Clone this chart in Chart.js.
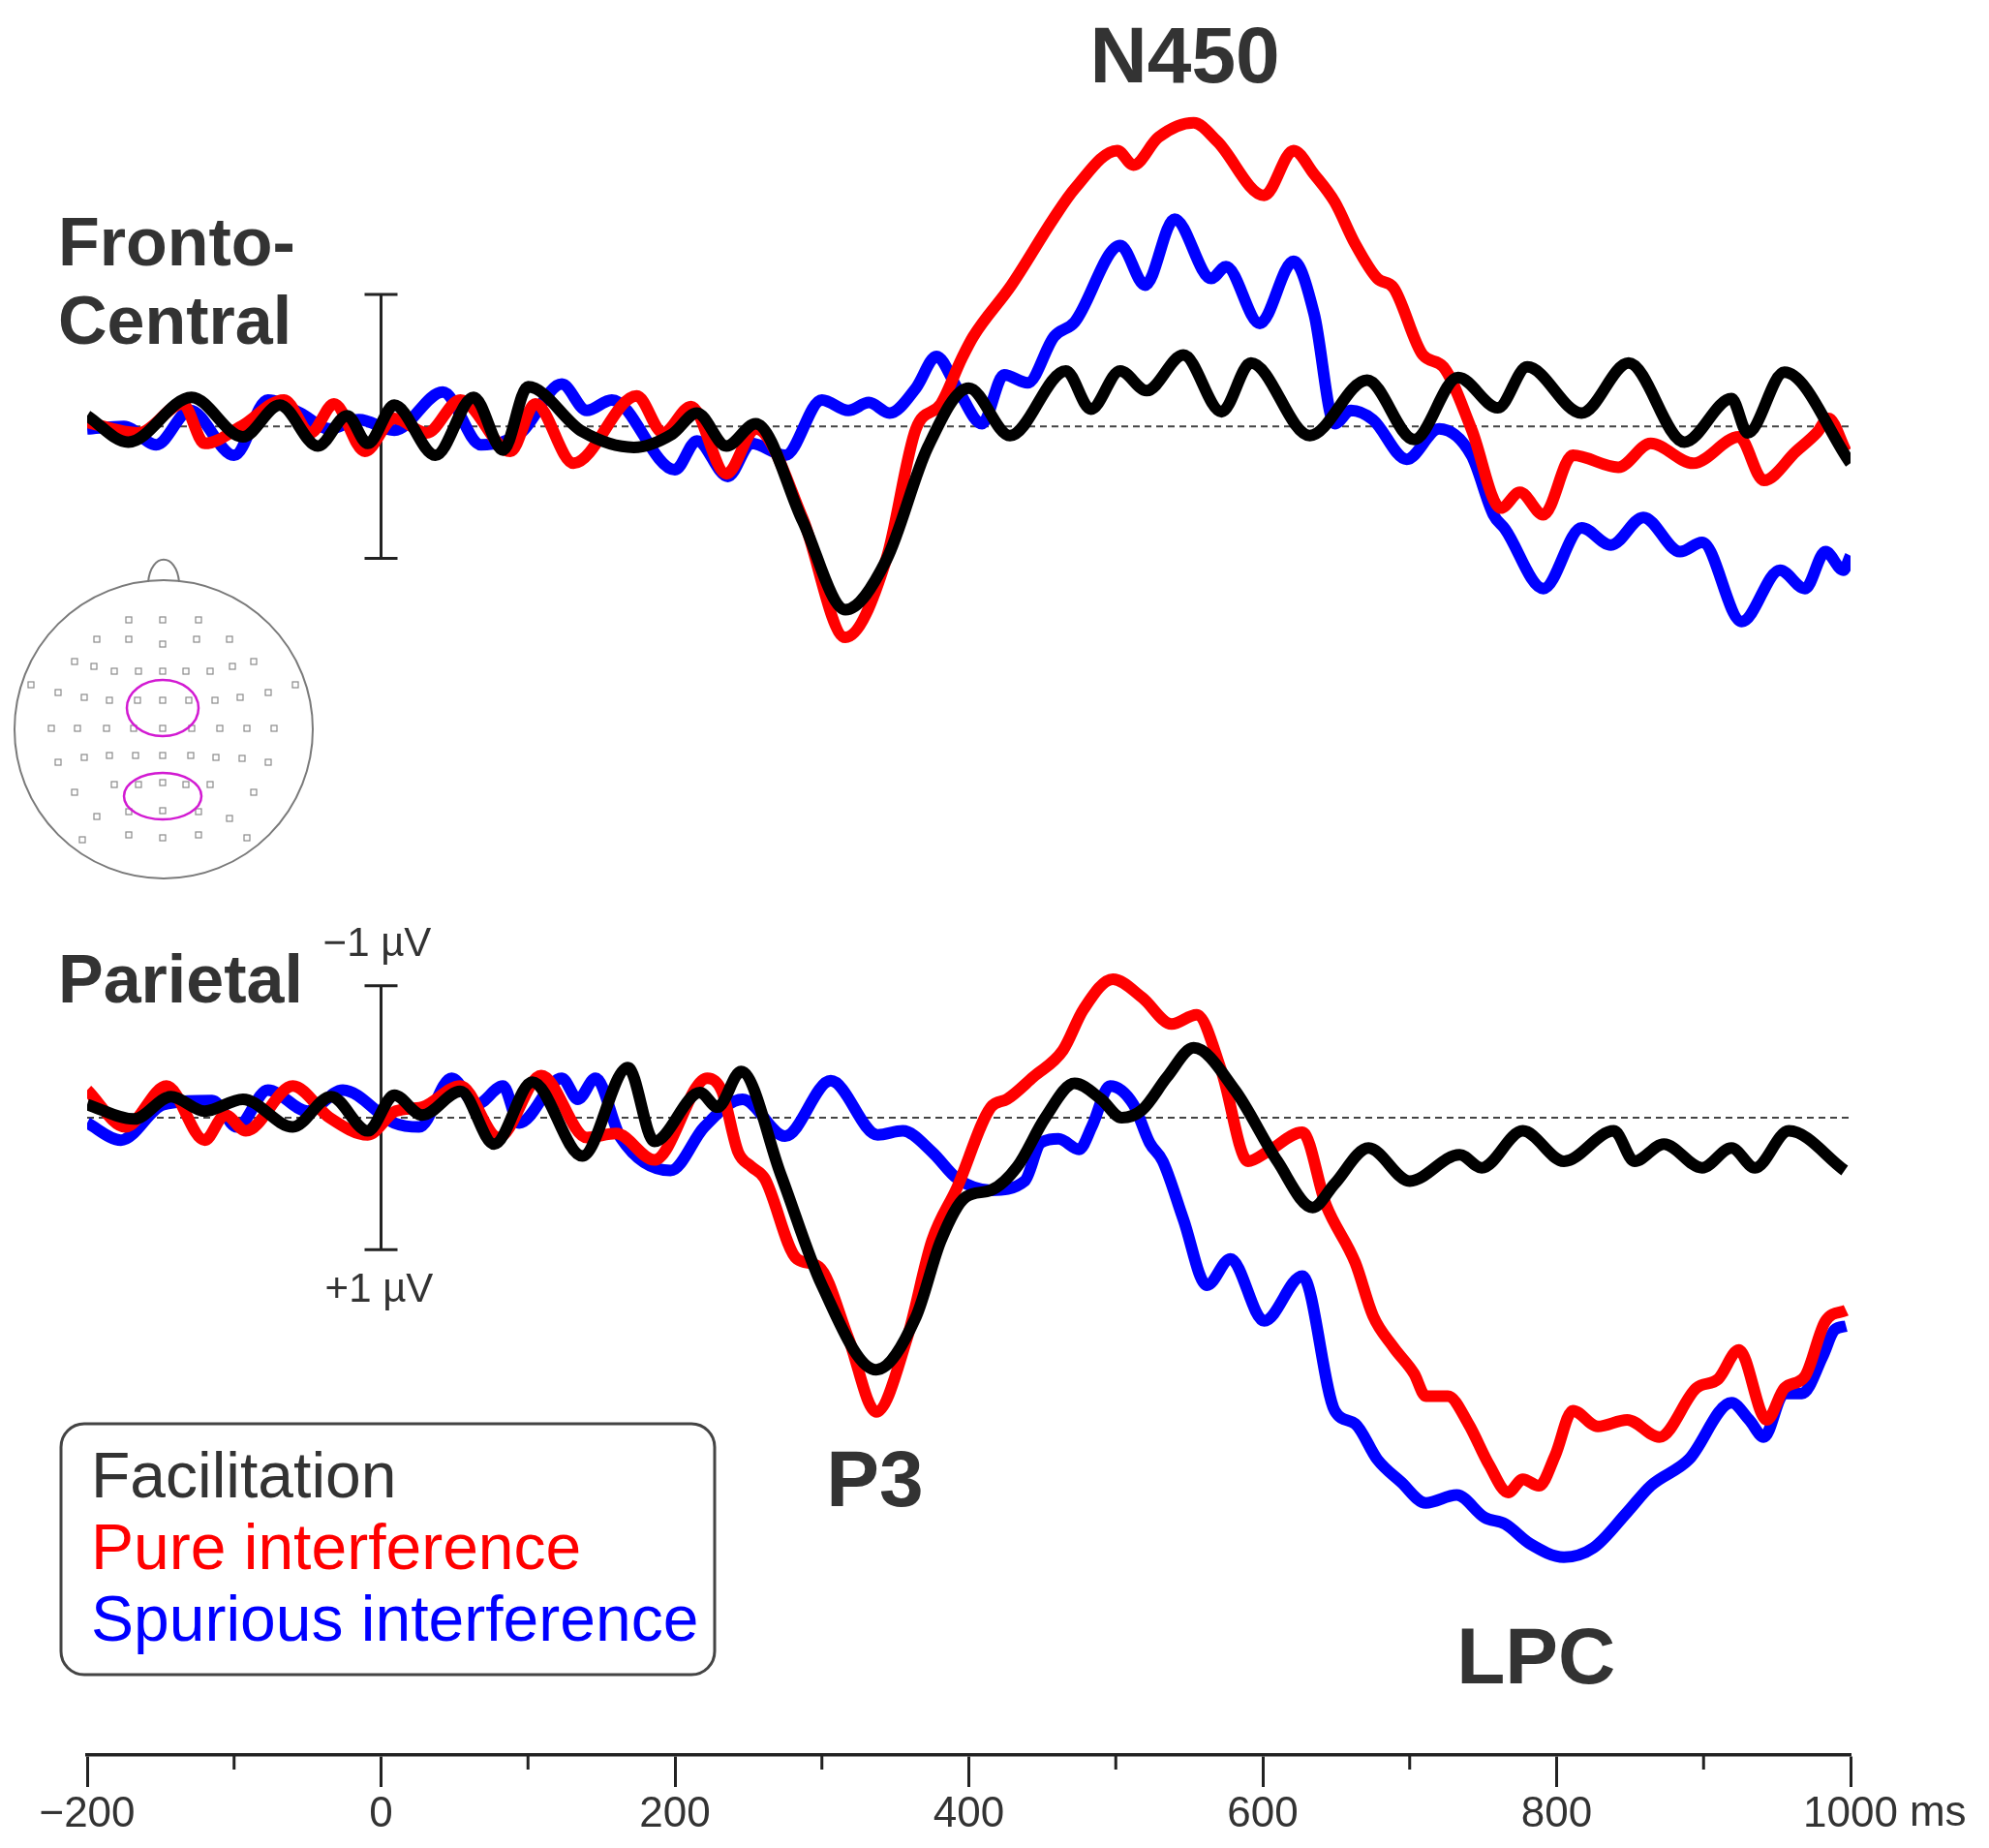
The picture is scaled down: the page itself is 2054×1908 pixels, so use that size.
<!DOCTYPE html>
<html>
<head>
<meta charset="utf-8">
<title>ERP grand averages</title>
<script src="https://cdn.jsdelivr.net/npm/chart.js@4.4.1/dist/chart.umd.min.js"></script>
<style>
  html, body { margin: 0; padding: 0; background: #fff; overflow: hidden; }
  #wrap { width: 2054px; height: 1908px; position: relative; }
</style>
</head>
<body>
<div id="wrap"><canvas id="erp"></canvas></div>
<script>
// Grand averages read at turning points: time (ms) / amplitude (µV), negative up
const xTicks = [-200, 0, 200, 400, 600, 800, 1000];
const xMinorTicks = [-100, 100, 300, 500, 700, 900];
const conditions = ['Facilitation', 'Pure interference', 'Spurious interference'];

// Fronto-central
const fcFacT = [-200,-172,-129,-94,-69,-43,-23,-9,9,37,63,83,100,137,172,198,215,235,255,287,316,344,372,400,428,466,483,503,521,546,572,592,632,671,703,733,760,780,817,849,887,919,930,955,1000];
const fcFacV = [-0.08,0.12,-0.22,0.08,-0.16,0.15,-0.08,0.13,-0.16,0.22,-0.22,0.18,-0.30,0.04,0.16,0.06,-0.10,0.15,-0.02,0.72,1.39,1.01,0.16,-0.29,0.07,-0.42,-0.13,-0.42,-0.27,-0.54,-0.11,-0.48,0.07,-0.35,0.10,-0.37,-0.14,-0.45,-0.10,-0.48,0.12,-0.21,0.05,-0.41,0.28];
const fcPurT = [-200,-165,-135,-120,-95,-66,-48,-32,-11,9,31,54,88,105,131,174,192,211,235,255,287,316,344,364,381,395,403,429,458,472,501,512,529,553,569,601,621,635,649,663,678,689,709,723,742,762,775,791,811,842,864,893,924,941,963,977,985,997];
const fcPurV = [-0.03,0.05,-0.17,0.13,0.0,-0.20,0.05,-0.17,0.19,-0.06,0.05,-0.20,0.19,-0.17,0.28,-0.23,0.05,-0.15,0.36,0.02,0.70,1.60,1.00,0.02,-0.17,-0.51,-0.68,-1.07,-1.58,-1.80,-2.09,-1.98,-2.19,-2.30,-2.16,-1.75,-2.09,-1.91,-1.70,-1.38,-1.12,-1.05,-0.54,-0.45,0.02,0.62,0.50,0.67,0.22,0.31,0.13,0.28,0.08,0.41,0.19,0.05,-0.06,0.19];
const fcSpuT = [-200,-175,-153,-130,-100,-77,-55,-35,-15,9,42,68,95,123,140,157,200,215,236,252,275,300,318,332,346,364,378,392,409,424,440,458,472,503,520,540,565,575,598,621,635,649,660,675,698,720,742,757,765,791,817,837,859,884,899,926,952,969,983,995,1000];
const fcSpuV = [0.02,0.0,0.14,-0.12,0.22,-0.20,-0.10,0.02,-0.05,0.03,-0.26,0.14,0.05,-0.32,-0.12,-0.20,0.33,0.11,0.38,0.13,0.22,-0.20,-0.12,-0.18,-0.10,-0.29,-0.53,-0.29,-0.02,-0.39,-0.33,-0.68,-0.79,-1.37,-1.07,-1.57,-1.12,-1.21,-0.78,-1.25,-0.85,-0.02,-0.12,-0.05,0.25,0.02,0.22,0.67,0.78,1.23,0.77,0.90,0.69,0.95,0.88,1.48,1.09,1.23,0.95,1.09,0.98];

// Parietal
const paFacT = [-200,-168,-143,-120,-94,-60,-34,-9,9,28,54,77,103,137,168,186,217,229,245,272,300,337,364,381,398,415,433,452,472,490,504,518,535,553,581,610,634,649,672,700,734,749,777,805,839,853,873,899,919,935,958,996];
const paFacV = [-0.10,0.01,-0.16,-0.05,-0.14,0.07,-0.16,0.10,-0.17,-0.02,-0.20,0.20,-0.27,0.29,-0.38,0.18,-0.19,-0.08,-0.35,0.43,1.27,1.91,1.51,0.93,0.60,0.55,0.37,0.0,-0.26,-0.14,0.0,-0.06,-0.31,-0.53,-0.21,0.33,0.68,0.50,0.23,0.48,0.28,0.38,0.10,0.33,0.10,0.33,0.20,0.38,0.23,0.38,0.10,0.40];
const paPurT = [-200,-174,-146,-120,-106,-92,-60,-35,-9,10,28,54,80,109,140,160,186,222,232,243,252,261,283,298,318,337,358,375,392,415,426,444,464,478,498,518,538,555,572,590,603,627,643,663,675,689,703,711,726,740,754,767,777,788,799,811,828,848,870,895,910,924,943,955,969,983,997];
const paPurV = [-0.21,0.07,-0.24,0.17,-0.02,0.10,-0.24,0.0,0.13,-0.05,-0.08,-0.24,0.15,-0.32,0.15,0.12,0.32,-0.30,-0.20,0.26,0.37,0.46,1.07,1.13,1.67,2.23,1.67,0.93,0.53,-0.08,-0.14,-0.31,-0.51,-0.82,-1.05,-0.91,-0.71,-0.78,-0.35,0.33,0.26,0.11,0.66,1.10,1.50,1.74,1.94,2.11,2.11,2.32,2.63,2.84,2.74,2.79,2.56,2.22,2.34,2.29,2.42,2.05,1.98,1.76,2.29,2.05,1.96,1.54,1.46];
const paSpuT = [-200,-177,-148,-115,-98,-77,-50,-26,9,26,48,65,83,94,123,134,146,163,197,220,246,275,306,338,355,375,392,415,438,449,461,475,484,496,512,523,532,546,562,578,601,627,649,663,678,694,711,732,751,765,782,805,825,848,864,890,919,931,941,955,967,981,989,997];
const paSpuV = [0.04,0.17,-0.10,-0.13,0.07,-0.21,-0.05,-0.21,0.04,0.07,-0.30,-0.10,-0.24,0.04,-0.30,-0.14,-0.30,0.15,0.40,0.07,-0.14,0.14,-0.28,0.13,0.10,0.26,0.46,0.55,0.48,0.19,0.16,0.24,0.06,-0.24,-0.10,0.19,0.33,0.77,1.27,1.07,1.54,1.20,2.22,2.32,2.59,2.76,2.92,2.86,3.03,3.08,3.23,3.33,3.26,2.99,2.79,2.59,2.16,2.29,2.42,2.09,2.09,1.81,1.61,1.58];

const FONT = '"Liberation Sans", Arial, sans-serif';
const TEXT = '#333333';
const colors = ['#000000', '#ff0000', '#0000ff'];

// electrode sites of the montage sketch (canvas px)
const electrodes = [
  [133,640],[168,640],[205,640],
  [100,660],[133,660],[168,665],[203,660],[237,660],
  [77,683],[97,688],[118,693],[143,693],[168,693],[192,693],[217,693],[240,688],[262,683],
  [32,707],[60,715],[87,720],[113,723],[142,723],[168,723],[195,723],[222,723],[248,720],[277,715],[305,707],
  [53,752],[80,752],[110,752],[138,752],[168,752],[198,752],[227,752],[255,752],[283,752],
  [60,787],[87,782],[113,780],[140,780],[168,780],[197,780],[223,782],[250,783],[277,787],
  [77,818],[118,810],[143,810],[168,808],[192,810],[217,810],[262,818],
  [100,843],[133,838],[168,837],[205,838],[237,845],
  [85,867],[133,862],[168,865],[205,862],[255,865]
];

function pts(ts, vs) {
  return ts.map((t, i) => ({ x: t, y: vs[i] }));
}

function wave(label, color, ts, vs, axis) {
  return {
    label,
    data: pts(ts, vs),
    yAxisID: axis,
    borderColor: color,
    borderWidth: 12,
    pointRadius: 0,
    cubicInterpolationMode: 'monotone',
    borderJoinStyle: 'round',
    fill: false
  };
}

function zeroLine(axis) {
  return {
    label: 'zero',
    data: [{ x: -200, y: 0 }, { x: 1000, y: 0 }],
    yAxisID: axis,
    borderColor: '#444',
    borderWidth: 2,
    borderDash: [7, 5],
    pointRadius: 0,
    order: 10
  };
}

const erpDecor = {
  id: 'erpDecor',
  beforeDatasetsDraw(chart) {
    const { ctx, scales: { x, yTop, yBot } } = chart;
    const x0 = x.getPixelForValue(0);
    ctx.save();
    ctx.strokeStyle = '#222';
    ctx.lineWidth = 3;
    [yTop, yBot].forEach(y => {
      const a = y.getPixelForValue(-1), b = y.getPixelForValue(1);
      ctx.beginPath();
      ctx.moveTo(x0, a); ctx.lineTo(x0, b);
      ctx.moveTo(x0 - 17, a); ctx.lineTo(x0 + 17, a);
      ctx.moveTo(x0 - 17, b); ctx.lineTo(x0 + 17, b);
      ctx.stroke();
    });
    ctx.restore();
  },
  afterDraw(chart) {
    const { ctx, scales: { x, yTop, yBot } } = chart;
    ctx.save();

    // minor ticks and unit on the time axis
    ctx.strokeStyle = '#222';
    ctx.lineWidth = 3;
    xMinorTicks.forEach(t => {
      const px = x.getPixelForValue(t);
      ctx.beginPath();
      ctx.moveTo(px, x.top);
      ctx.lineTo(px, x.top + 15);
      ctx.stroke();
    });
    ctx.font = '44px ' + FONT;
    ctx.fillStyle = TEXT;
    ctx.textBaseline = 'middle';
    ctx.textAlign = 'left';
    const w1000 = ctx.measureText('1000').width;
    ctx.fillText('ms', x.getPixelForValue(1000) + w1000 / 2 + 12, x.top + 35 + 26);

    // scale bar labels
    ctx.font = '42px ' + FONT;
    ctx.textAlign = 'center';
    const x0 = x.getPixelForValue(0);
    ctx.fillText('\u22121 \u00b5V', x0 - 4, yBot.getPixelForValue(-1.31));
    ctx.fillText('+1 \u00b5V', x0 - 2, yBot.getPixelForValue(1.31));

    // component labels
    ctx.font = 'bold 82px ' + FONT;
    ctx.textBaseline = 'alphabetic';
    ctx.fillText('N450', x.getPixelForValue(547), yTop.getPixelForValue(-2.61));
    ctx.fillText('P3', x.getPixelForValue(336), yBot.getPixelForValue(2.94));
    ctx.fillText('LPC', x.getPixelForValue(786), yBot.getPixelForValue(4.29));

    // region labels
    ctx.font = 'bold 70px ' + FONT;
    ctx.textAlign = 'left';
    ctx.fillText('Fronto-', 60, 274);
    ctx.fillText('Central', 60, 355);
    ctx.fillText('Parietal', 60, 1035);

    // montage sketch
    ctx.strokeStyle = '#7a7a7a';
    ctx.lineWidth = 2;
    ctx.beginPath();
    ctx.arc(169, 753, 154, 0, Math.PI * 2);
    ctx.stroke();
    ctx.beginPath();
    ctx.moveTo(153, 601);
    ctx.bezierCurveTo(156, 570, 182, 570, 185, 601);
    ctx.stroke();
    ctx.lineWidth = 1.2;
    ctx.strokeStyle = '#8a8a8a';
    electrodes.forEach(([ex, ey]) => ctx.strokeRect(ex - 3, ey - 3, 6, 6));
    ctx.strokeStyle = '#d21ad2';
    ctx.lineWidth = 2.5;
    ctx.beginPath();
    ctx.ellipse(168, 731, 37, 29, 0, 0, Math.PI * 2);
    ctx.stroke();
    ctx.beginPath();
    ctx.ellipse(168, 822, 40, 24, 0, 0, Math.PI * 2);
    ctx.stroke();

    // legend box
    ctx.strokeStyle = '#444';
    ctx.lineWidth = 3;
    ctx.beginPath();
    ctx.roundRect(63, 1470, 675, 259, 24);
    ctx.stroke();
    ctx.font = '66px ' + FONT;
    conditions.forEach((name, i) => {
      ctx.fillStyle = i === 0 ? TEXT : colors[i];
      ctx.fillText(name, 94, 1546 + i * 74);
    });

    ctx.restore();
  }
};

const datasets = [
  wave(conditions[0], colors[0], fcFacT, fcFacV, 'yTop'),
  wave(conditions[1], colors[1], fcPurT, fcPurV, 'yTop'),
  wave(conditions[2], colors[2], fcSpuT, fcSpuV, 'yTop'),
  wave(conditions[0], colors[0], paFacT, paFacV, 'yBot'),
  wave(conditions[1], colors[1], paPurT, paPurV, 'yBot'),
  wave(conditions[2], colors[2], paSpuT, paSpuV, 'yBot'),
  zeroLine('yTop'),
  zeroLine('yBot')
];

new Chart(document.getElementById('erp'), {
  type: 'line',
  data: { datasets },
  plugins: [erpDecor],
  options: {
    responsive: true,
    maintainAspectRatio: false,
    devicePixelRatio: 1,
    animation: false,
    layout: { padding: { left: 90, right: 143, top: 26, bottom: 0 } },
    plugins: { legend: { display: false }, tooltip: { enabled: false } },
    scales: {
      x: {
        type: 'linear',
        position: 'bottom',
        min: -200,
        max: 1000,
        afterBuildTicks: scale => { scale.ticks = xTicks.map(v => ({ value: v })); },
        afterFit: scale => { scale.height = 96; },
        ticks: {
          padding: 2,
          maxRotation: 0,
          color: TEXT,
          font: { family: FONT, size: 44 },
          callback: v => (v < 0 ? '\u2212' + Math.abs(v) : String(v))
        },
        grid: { drawOnChartArea: false, drawTicks: true, tickLength: 33, tickWidth: 3, tickColor: '#222' },
        border: { display: true, color: '#222', width: 3.5 }
      },
      // both panels share the plot area; ranges put each baseline where the figure has it
      yTop: { type: 'linear', display: false, reverse: true, min: -3.04, max: 10.07 },
      yBot: { type: 'linear', display: false, reverse: true, min: -8.28, max: 4.83 }
    }
  }
});
</script>
</body>
</html>
